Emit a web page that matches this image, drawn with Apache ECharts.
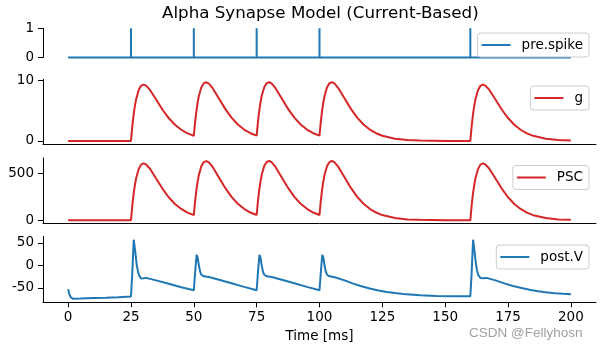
<!DOCTYPE html>
<html><head><meta charset="utf-8">
<script src="https://cdn.jsdelivr.net/npm/echarts@6/dist/echarts.min.js"></script>
<style>html,body{margin:0;padding:0;background:#fff}#c{width:600px;height:350px}</style>
</head><body><div id="c"></div>
<script>
// ---- data ----
const spikeTimes = [25, 50, 75, 100, 160];
const tG = [0, 25,
  25.5, 26, 26.5, 27, 28, 29, 30, 31, 32.5, 35, 37.5, 40, 42.5, 45, 47.5,
  50, 50.5, 51, 51.5, 52, 53, 54, 55, 56, 57.5, 60, 62.5, 65, 67.5, 70, 72.5,
  75, 75.5, 76, 76.5, 77, 78, 79, 80, 81, 82.5, 85, 87.5, 90, 92.5, 95, 97.5,
  100, 100.5, 101, 101.5, 102, 103, 104, 105, 106, 107.5, 110, 112.5, 115, 117.5, 120, 122.5, 125, 130, 135, 140, 150, 160,
  160.5, 161, 161.5, 162, 163, 164, 165, 166, 167.5, 170, 172.5, 175, 177.5, 180, 182.5, 185, 190, 195, 200];
const gVals = [0, 0,
  2.29, 4.14, 5.62, 6.78, 8.32, 9.09, 9.30, 9.13, 8.46, 6.84, 5.19, 3.78, 2.67, 1.85, 1.26,
  0.86, 3.07, 4.86, 6.29, 7.40, 8.85, 9.53, 9.68, 9.45, 8.71, 7.01, 5.29, 3.84, 2.71, 1.88, 1.28,
  0.87, 3.08, 4.87, 6.30, 7.41, 8.86, 9.54, 9.69, 9.45, 8.71, 7.01, 5.29, 3.84, 2.71, 1.88, 1.28,
  0.87, 3.08, 4.87, 6.30, 7.41, 8.86, 9.54, 9.69, 9.45, 8.71, 7.01, 5.29, 3.84, 2.71, 1.88, 1.28, 0.86, 0.38, 0.16, 0.07, 0.01, 0,
  2.29, 4.14, 5.62, 6.78, 8.32, 9.09, 9.30, 9.13, 8.46, 6.84, 5.19, 3.78, 2.67, 1.85, 1.26, 0.85, 0.38, 0.16, 0.07];
const pscVals = [0, 0,
  149, 270, 366, 442, 542, 593, 606, 595, 552, 446, 338, 246, 174, 121, 82,
  56, 200, 317, 410, 482, 577, 621, 631, 616, 568, 457, 345, 250, 177, 123, 83,
  57, 201, 318, 411, 483, 578, 622, 632, 616, 568, 457, 345, 250, 177, 123, 83,
  57, 201, 318, 411, 483, 578, 622, 632, 616, 568, 457, 345, 250, 177, 123, 83, 56, 25, 10, 5, 1, 0,
  149, 270, 366, 442, 542, 593, 606, 595, 552, 446, 338, 246, 174, 121, 82, 55, 25, 10, 5];
const tV = [0, 0.5, 1, 1.5, 2, 5, 10, 15, 20, 25,
  25.5, 26.1, 26.6, 27.2, 27.7, 28.2, 29, 30, 31, 35, 40, 45, 50,
  50.6, 51.1, 51.5, 52, 52.5, 53, 54, 56, 60, 65, 70, 75,
  75.6, 76.1, 76.5, 77, 77.5, 78, 79, 81, 85, 90, 95, 100,
  100.6, 101.1, 101.5, 102, 102.5, 103, 104, 106, 110, 113.4, 116, 120, 123, 126.7, 130, 133.3, 140, 146.6, 153, 160,
  160.5, 161.1, 161.6, 162.2, 162.7, 163.2, 164, 164.5, 165.5, 166.5, 170, 173.8, 177, 180.4, 184, 187, 190, 193.6, 197, 200];
const vVals = [-53, -64, -71, -74, -74.5, -74, -73, -72, -70.8, -69.5,
  -20, 57, 35, 5, -12, -22, -29.5, -29, -28, -33.5, -41, -49, -55.6,
  -10, 23, 18, 0, -14, -21, -24.5, -26, -32, -40, -48, -55.6,
  -10, 23, 18, 0, -14, -21, -24.5, -26, -32, -40, -48, -55.6,
  -10, 23, 18, 0, -14, -21, -24.5, -26.5, -33.5, -40.8, -45.5, -51.5, -55.5, -59.3, -61.8, -63.8, -66.8, -68.2, -68.8, -69,
  -20, 57, 35, 5, -12, -22, -28, -29.7, -29, -28, -33.5, -40.8, -46, -50.5, -55, -57.8, -60, -62, -63.5, -64.5];
const xTicks = [0, 25, 50, 75, 100, 125, 150, 175, 200];
const spikeTicks = [0, 1];
const gTicks = [0, 10];
const pscTicks = [0, 500];
const vTicks = [-50, 0, 50];
const titleText = 'Alpha Synapse Model (Current-Based)';
const xName = 'Time [ms]';
const watermark = 'CSDN @Fellyhosn';

// ---- build ----
const BLUE = '#1f77b4', RED = '#d62728', FONT = 'DejaVu Sans', FS = 13.5;
const spikeData = [[0, 0]];
spikeTimes.forEach(t => { spikeData.push([t, 0], [t, 1], [t, 0]); });
spikeData.push([200, 0]);

const pairs = (xs, ys) => xs.map((x, i) => [x, ys[i]]);

function xAx(gi, mode) {
  const o = { type: 'value', gridIndex: gi, min: -10, max: 210, splitLine: { show: false },
    axisLine: { show: mode !== 'none', onZero: false, lineStyle: { color: '#000', width: 1 } },
    axisTick: { show: false }, axisLabel: { show: false } };
  if (mode === 'full') {
    o.axisTick = { show: true, length: 5, lineStyle: { color: '#000', width: 1 }, customValues: xTicks };
    o.axisLabel = { show: true, color: '#000', fontFamily: FONT, fontSize: FS, margin: 8, customValues: xTicks };
    o.name = xName; o.nameLocation = 'middle'; o.nameGap = 27;
    o.nameTextStyle = { color: '#000', fontFamily: FONT, fontSize: FS };
  }
  return o;
}
function yAx(gi, min, max, ticks) {
  return { type: 'value', gridIndex: gi, min: min, max: max, splitLine: { show: false },
    axisLine: { show: true, onZero: false, lineStyle: { color: '#000', width: 1 } },
    axisTick: { show: true, length: 5, lineStyle: { color: '#000', width: 1 }, customValues: ticks },
    axisLabel: { color: '#000', fontFamily: FONT, fontSize: FS, margin: 9, customValues: ticks } };
}
function leg(name, top) {
  return { data: [name], right: 11, top: top, icon: 'rect', itemWidth: 29, itemHeight: 2,
    padding: [5, 6, 5, 4], backgroundColor: 'rgba(255,255,255,0.8)', borderColor: '#cccccc',
    borderWidth: 1, borderRadius: 3, selectedMode: false,
    textStyle: { fontFamily: FONT, fontSize: FS, color: '#000', padding: [0, 0, 0, 6] } };
}
function ser(name, gi, data, color) {
  return { name: name, type: 'line', xAxisIndex: gi, yAxisIndex: gi, data: data, showSymbol: false,
    clip: false, color: color, lineStyle: { color: color, width: 2 }, animation: false };
}

const chart = echarts.init(document.getElementById('c'), null, { renderer: 'canvas' });
chart.setOption({
  animation: false,
  backgroundColor: '#fff',
  title: { text: titleText, left: 162, top: 5, padding: 0, textStyle: { fontFamily: FONT, fontSize: 16.7, fontWeight: 'normal', color: '#000' } },
  grid: [
    { left: 43, right: 4, top: 28.3, height: 29.2 },
    { left: 43, right: 4, top: 79.3, height: 64.6 },
    { left: 43, right: 4, top: 158, height: 65.3 },
    { left: 43, right: 4, top: 236.3, height: 66 }
  ],
  xAxis: [xAx(0, 'none'), xAx(1, 'line'), xAx(2, 'line'), xAx(3, 'full')],
  yAxis: [yAx(0, 0, 1, spikeTicks), yAx(1, -0.4845, 10.17, gTicks), yAx(2, -31.6, 663.6, pscTicks), yAx(3, -82.3, 64.5, vTicks)],
  legend: [leg('pre.spike', 33), leg('g', 86), leg('PSC', 165.5), leg('post.V', 245)],
  series: [
    ser('pre.spike', 0, spikeData, BLUE),
    ser('g', 1, pairs(tG, gVals), RED),
    ser('PSC', 2, pairs(tG, pscVals), RED),
    ser('post.V', 3, pairs(tV, vVals), BLUE)
  ],
  graphic: [{ type: 'text', left: 469, top: 326, silent: true,
    style: { text: watermark, fill: 'rgba(120,120,120,0.7)', font: '13.5px "Liberation Sans", Arial, sans-serif' } }]
});
</script>
</body></html>
